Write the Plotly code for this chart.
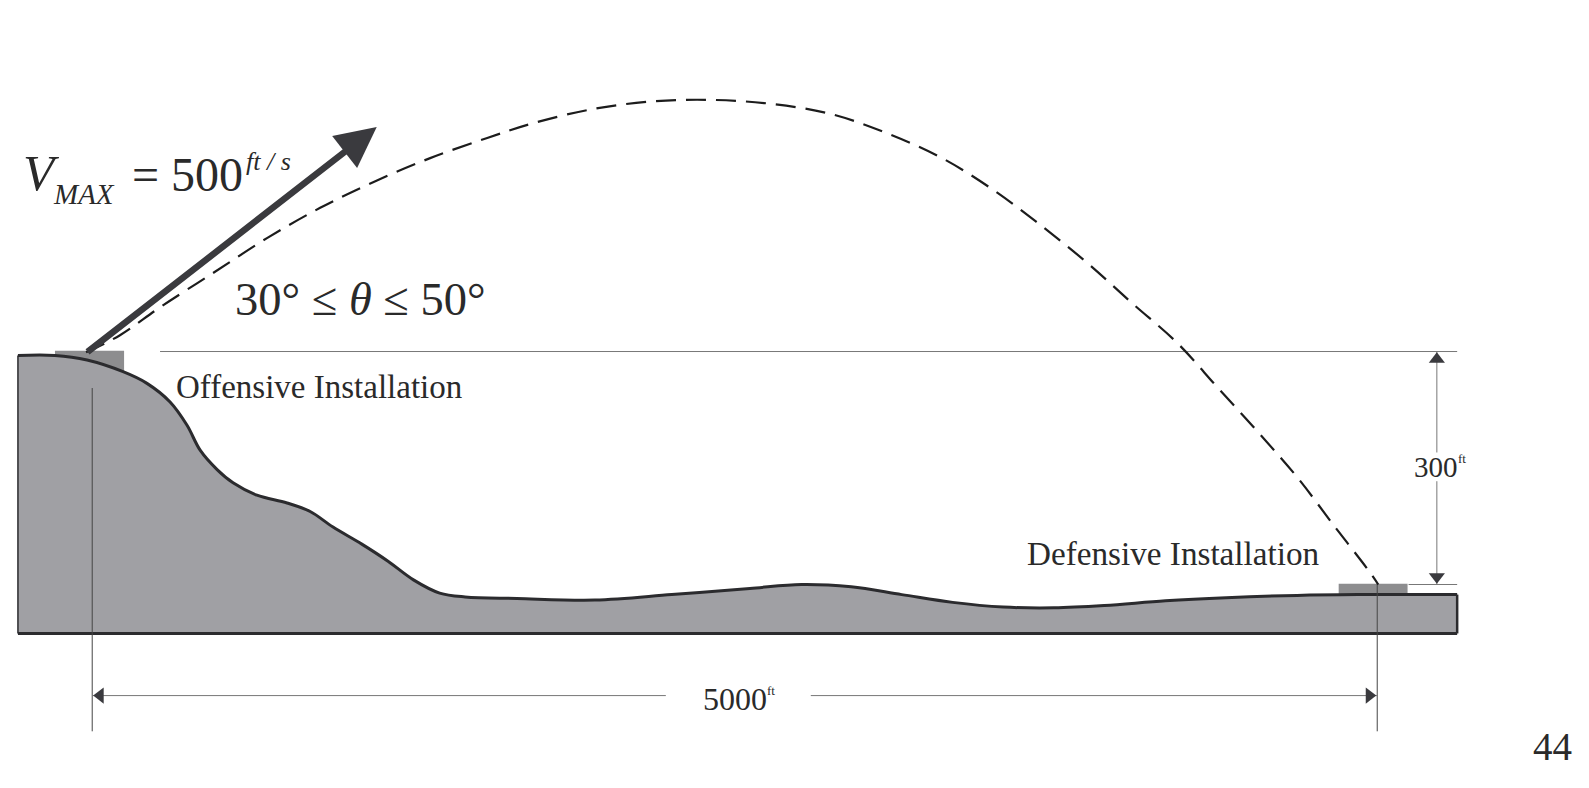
import plotly.graph_objects as go

# everything in feet, measured from the offensive installation / defensive level
terrain_x = [-289, -145, -20, 120, 213, 303, 369, 420, 486, 548, 641, 758, 848, 937,
             1049, 1151, 1250, 1352, 1451, 1652, 1956, 2255, 2559, 2760, 2953, 3150, 3348, 3545,
             3742, 3939, 4176, 4412, 4688, 4925, 5311]
terrain_y = [295, 295, 289, 274, 259, 235, 205, 173, 148, 131, 115, 105, 94, 74,
             52, 30, 6, -11, -16, -18, -20, -13, -5, 0, -3, -13, -23, -29,
             -30, -27, -21, -17, -14, -13, -13]
base_y = -63

shell_x = [-24, 108, 264, 470, 680, 887, 1093, 1315, 1537, 1716, 1945, 2179, 2405, 2638, 2872,
           3093, 3307, 3502, 3689, 3872, 4047, 4222, 4378, 4537, 4689, 4829, 4973, 5004]
shell_y = [299, 321, 357, 401, 446, 485, 518, 549, 575, 594, 612, 622, 624, 619, 606,
           581, 549, 509, 463, 414, 362, 311, 254, 196, 138, 77, 15, 0]

offense_x = [-145, 124]
offense_y = [274, 301]
defense_x = [4850, 5118]
defense_y = [-13, 1]

velocity_x = [-24, 1107]
velocity_y = [298, 589]

distance_ft = 5000
height_ft = 300

X_RANGE = [-358.8, 5824]
Y_RANGE = [-262, 752.6]
W, H = 1589, 788
LABEL_W, LABEL_H = 1568, 778
DARK = "#2b2b2e"
GROUND = "#a0a0a4"
DIM = "#777777"
FONT = "Liberation Serif"

fig = go.Figure()


def box(xs, ys, color):
    fig.add_trace(go.Scatter(x=[xs[0], xs[1], xs[1], xs[0], xs[0]], y=[ys[0], ys[0], ys[1], ys[1], ys[0]],
                             mode="lines", fill="toself", fillcolor=color, line=dict(width=0)))


def thin(xs, ys, color=DIM, width=1, shape="linear"):
    fig.add_trace(go.Scatter(x=xs, y=ys, mode="lines", line=dict(color=color, width=width, shape=shape)))


def tip(x, y, symbol):
    fig.add_trace(go.Scatter(x=[x], y=[y], mode="markers",
                             marker=dict(symbol=symbol, size=14, color="#3a3a3e", line=dict(width=0))))


def label(text, px, py, size, italic=False, anchor="left"):
    if italic:
        text = "<i>" + text + "</i>"
    fig.add_annotation(text=text, x=px / LABEL_W, y=1 - py / LABEL_H, xref="paper", yref="paper", showarrow=False,
                       xanchor=anchor, yanchor="middle", font=dict(family=FONT, size=size, color="#2a2a2a"))


# installations go under the ground fill
box(offense_x, offense_y, "#8d8d8f")
box(defense_x, defense_y, "#8d8d8f")

fig.add_trace(go.Scatter(x=terrain_x + [terrain_x[-1], terrain_x[0], terrain_x[0]],
                         y=terrain_y + [base_y, base_y, terrain_y[0]],
                         mode="lines", fill="toself", fillcolor=GROUND, line=dict(width=0)))
thin(terrain_x, terrain_y, DARK, 3, "spline")
thin([terrain_x[0], terrain_x[0]], [terrain_y[0], base_y], DARK, 1.5)
thin([terrain_x[-1], terrain_x[-1]], [terrain_y[-1], base_y], DARK, 2.5)
thin([terrain_x[0], terrain_x[-1]], [base_y, base_y], DARK, 3)

# reference and dimension lines
thin([264, 5311], [height_ft, height_ft])
thin([5122, 5311], [0, 0])
thin([0, 0], [253, -189], "#444444")
thin([distance_ft, distance_ft], [3, -189], "#444444")
thin([0, 2232], [-143, -143])
thin([2796, distance_ft], [-143, -143])
thin([5232, 5232], [height_ft, 170])
thin([5232, 5232], [133, 0])
tip(31, -143, "triangle-left")
tip(distance_ft - 31, -143, "triangle-right")
tip(5232, 290, "triangle-up")
tip(5232, 10, "triangle-down")

fig.add_trace(go.Scatter(x=shell_x, y=shell_y, mode="lines",
                         line=dict(color="#1c1c1c", width=2.2, shape="spline", dash="20px,10px")))

fig.add_annotation(x=velocity_x[1], y=velocity_y[1], ax=velocity_x[0], ay=velocity_y[0],
                   xref="x", yref="y", axref="x", ayref="y", text="", showarrow=True,
                   arrowhead=2, arrowsize=1.25, arrowwidth=6.5, arrowcolor="#3a3a3e")

label("V", 21, 171, 51, italic=True)
label("MAX", 50, 192, 29, italic=True)
label("= 500", 128, 172, 48)
label("ft / s", 241, 159, 26, italic=True)
label("30° ≤ <i>θ</i> ≤ 50°", 230, 296, 46.5)
label("Offensive Installation", 172, 382, 33)
label("Defensive Installation", 1011, 546, 33.2)
label("300", 1393, 461, 29)
label("ft", 1437, 453, 13)
label("5000", 692, 690, 32)
label("ft", 755, 682, 13)
label("44", 1511, 737, 39)

fig.update_layout(width=W, height=H, margin=dict(l=0, r=0, t=0, b=0), showlegend=False,
                  paper_bgcolor="white", plot_bgcolor="white",
                  xaxis=dict(range=X_RANGE, visible=False),
                  yaxis=dict(range=Y_RANGE, visible=False))

fig.write_html("out.html", config={"displayModeBar": False},
               post_script="document.body.style.margin='0';")
